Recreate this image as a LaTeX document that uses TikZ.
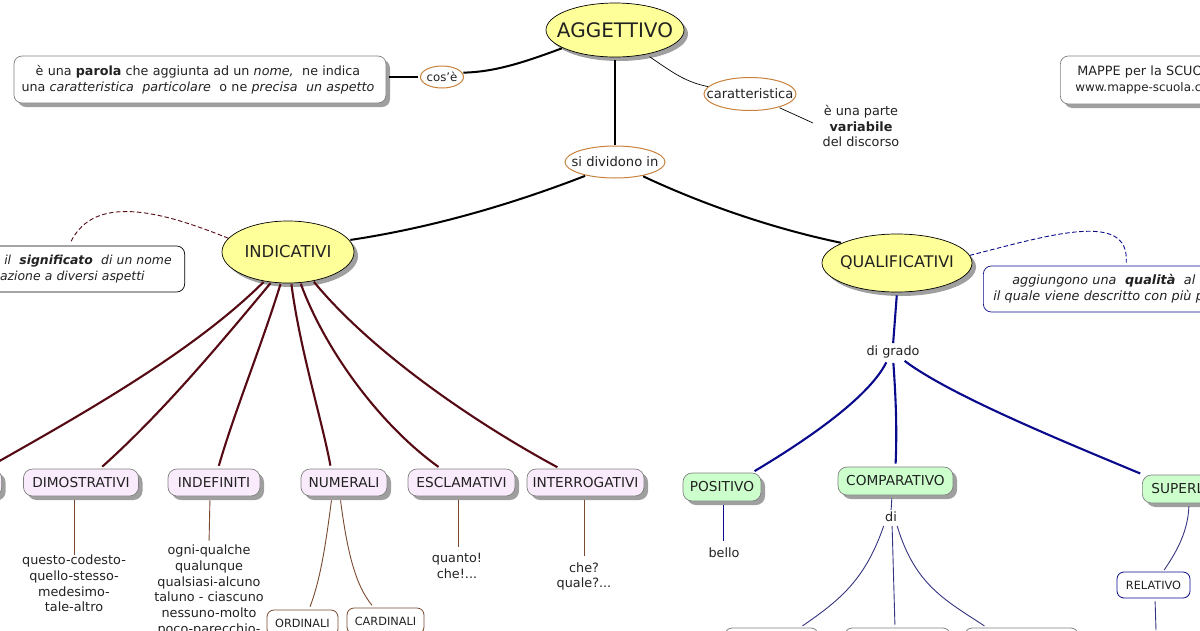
\documentclass[tikz,border=0pt]{standalone}
\usepackage{fontspec}
\setmainfont{DejaVu Sans}
\usetikzlibrary{shapes.geometric,shadows}
\definecolor{txt}{HTML}{222222}
\definecolor{yel}{HTML}{FFFF99}
\definecolor{pinkf}{HTML}{FAEBFC}
\definecolor{greenf}{HTML}{CCFFCC}
\definecolor{orangeb}{HTML}{C8823C}
\definecolor{darkred}{HTML}{560A14}
\definecolor{navy}{HTML}{0A0A8C}
\definecolor{thinnavy}{HTML}{33337F}
\definecolor{brownl}{HTML}{7A4A30}
\definecolor{greyb}{HTML}{808080}
\tikzset{
  every node/.style={text=txt,font=\fontsize{12.8}{15.8}\selectfont,align=center},
  shad/.style={drop shadow={shadow xshift=4pt,shadow yshift=-4pt,fill=gray!75,opacity=1}},
  bigell/.style={ellipse,draw=black,fill=yel,shad,inner ysep=0pt,inner xsep=-10pt,line width=.7pt},
  linkell/.style={ellipse,draw=orangeb,fill=white,inner ysep=0pt,inner xsep=-12pt,line width=1pt,font=\fontsize{13.1}{15}\selectfont},
  notebox/.style={rectangle,rounded corners=8pt,draw=greyb,fill=white,line width=.7pt},
  pinkbox/.style={rectangle,rounded corners=9pt,draw=greyb,fill=pinkf,shad,inner sep=0pt,minimum height=27pt,line width=.7pt,font=\fontsize{13.7}{16}\selectfont},
  greenbox/.style={rectangle,rounded corners=9pt,draw=greyb,fill=greenf,shad,inner sep=0pt,minimum height=28pt,line width=.7pt,font=\fontsize{13.7}{16}\selectfont},
  smallbox/.style={rectangle,rounded corners=7pt,fill=white,inner sep=0pt,minimum height=26pt,line width=.8pt,font=\fontsize{11.3}{13}\selectfont},
  plain/.style={inner sep=0pt},
  thick2/.style={line width=2pt,black},
  redline/.style={line width=2.1pt,darkred},
  blueline/.style={line width=2.1pt,navy},
  thinline/.style={line width=.9pt},
  dashline/.style={line width=.9pt,dash pattern=on 4.5pt off 2.5pt},
}
\begin{document}
\begin{tikzpicture}[x=1pt,y=-1pt]
\useasboundingbox (0,0) rectangle (1200,630);
\clip (0,0) rectangle (1200,630);
% nodes
\node[bigell,minimum width=138pt,minimum height=54pt,font=\fontsize{20}{22}\selectfont] (agg) at (615,30) {AGGETTIVO};
\node[linkell,minimum width=43pt,minimum height=22pt,font=\fontsize{11.8}{14}\selectfont] (cos) at (442,77) {cos'è};
\node[linkell,minimum width=92pt,minimum height=33pt] (car) at (750,94) {caratteristica};
\node[linkell,minimum width=100pt,minimum height=32pt] (si) at (615,162) {si dividono in};
\node[notebox,shad,minimum width=372pt,minimum height=47pt,inner sep=0pt,font=\fontsize{12.7}{15.8}\selectfont,text width=372pt] (def) at (200,79.5) {\hspace*{-4pt}è una \textbf{parola} che aggiunta ad un \textit{nome,}\ \ ne indica\\\hspace*{-4pt}una \textit{caratteristica\ \ particolare}\ \ o ne \textit{precisa\ \ un aspetto}};
\node[plain] (par) at (861,126) {è una parte\\\textbf{variabile}\\del discorso};
\node[notebox,shad,anchor=west,minimum width=200pt,minimum height=48pt,inner sep=0pt,text width=185pt,align=left] (map) at (1060,80) {\hspace*{9.5pt}MAPPE per la SCUO\\\hspace*{7.5pt}{\fontsize{11.9}{15.8}\selectfont www.mappe-scuola.c}};
\node[bigell,minimum width=132pt,minimum height=62pt,font=\fontsize{16.4}{18}\selectfont] (ind) at (288,252) {INDICATIVI};
\node[bigell,minimum width=150pt,minimum height=58pt,font=\fontsize{16}{18}\selectfont] (qua) at (897,263) {QUALIFICATIVI};
\node[notebox,draw=black,anchor=east,minimum height=46pt,text width=200pt,inner sep=0pt,align=right,font=\fontsize{12.4}{15.8}\selectfont] (noteind) at (185,269) {\textit{il\ \ \textbf{significato}\ \ di un nome}\rule{13pt}{0pt}\\\textit{azione a diversi aspetti}\rule{40pt}{0pt}};
\node[notebox,draw=navy,anchor=west,minimum height=46pt,text width=240pt,inner sep=0pt,align=left] (notequa) at (983,289) {\hspace*{29pt}\textit{aggiungono una\ \ \textbf{qualità}\ \ al n}\\\hspace*{10pt}\textit{il quale viene descritto con più p}};
% row of pink boxes
\node[pinkbox,minimum width=60pt,anchor=east] (hid) at (2,483) {};
\node[pinkbox,minimum width=115pt] (dim) at (81,482.5) {DIMOSTRATIVI};
\node[pinkbox,minimum width=92pt] (inde) at (214,482.5) {INDEFINITI};
\node[pinkbox,minimum width=86pt] (num) at (344,482.5) {NUMERALI};
\node[pinkbox,minimum width=107pt] (esc) at (461.5,482.5) {ESCLAMATIVI};
\node[pinkbox,minimum width=117pt] (int) at (585.5,482.5) {INTERROGATIVI};
% green boxes
\node[greenbox,minimum width=78pt] (pos) at (722,487) {POSITIVO};
\node[greenbox,minimum width=115pt] (com) at (895.5,481) {COMPARATIVO};
\node[greenbox,anchor=west,minimum width=130pt,align=left,text width=130pt] (sup) at (1142,489) {\hspace*{9pt}SUPERL};
% texts
\node[plain,fill=white] (gra) at (893,351.5) {di grado};
\node[plain] (di) at (891,517) {di};
\node[plain] (bel) at (724,553) {bello};
\node[plain] (tdim) at (74,583.5) {questo-codesto-\\quello-stesso-\\medesimo-\\tale-altro};
\node[plain,anchor=north] (tind) at (209,544.5) {ogni-qualche\\qualunque\\qualsiasi-alcuno\\taluno - ciascuno\\nessuno-molto\\poco-parecchio-};
\node[plain] (tesc) at (457,566) {quanto!\\che!...};
\node[plain] (tint) at (584,576.5) {che?\\quale?...};
% small boxes
\node[smallbox,draw=brownl,minimum width=71pt] (ord) at (302.5,623) {ORDINALI};
\node[smallbox,draw=brownl,minimum width=77pt] (card) at (385.5,621) {CARDINALI};
\node[smallbox,draw=navy,minimum width=73pt] (rel) at (1153.5,585) {RELATIVO};
\node[smallbox,draw=greyb,minimum width=93pt,minimum height=30pt] (b1) at (771.5,643) {};
\node[smallbox,draw=greyb,minimum width=105pt,minimum height=30pt] (b2) at (897.5,643) {};
\node[smallbox,draw=greyb,minimum width=113pt,minimum height=30pt] (b3) at (1021.5,643) {};
\coordinate (endcar) at (813,123);
\coordinate (rdown) at (1156,630);
% connectors
\draw[thick2,shorten <=1pt,shorten >=1pt] (agg.199) .. controls (525,62) and (495,72) .. (cos.12);
\draw[thick2,shorten <=2pt,shorten >=3pt] (cos.west) -- (def.east |- cos.west);
\draw[thinline,line width=.7pt,shorten <=4pt] (agg.322) .. controls (672,72) and (685,82) .. (car.170);
\draw[thinline,line width=.7pt,shorten <=1pt] (car.335) -- (endcar);
\draw[thick2,shorten <=3pt,shorten >=1pt] (agg.south) -- (si.north);
\draw[thick2,shorten <=1pt,shorten >=1pt] (si.205) .. controls (510,205) and (430,228) .. (ind.11);
\draw[thick2,shorten <=1pt,shorten >=1pt] (si.333) .. controls (700,203) and (770,228) .. (qua.160);
\draw[dashline,darkred,shorten >=3pt] (ind.167) .. controls (170,215) and (95,190) .. (noteind.north -| 69,0);
\draw[dashline,navy,shorten >=3pt] (qua.6) .. controls (1050,235) and (1130,210) .. (notequa.north -| 1126,0);
\draw[redline,shorten <=1pt] (ind.231) .. controls (195,350) and (90,410) .. (hid.north -| -15,0);
\draw[redline,shorten <=1pt,shorten >=3pt] (ind.241) .. controls (215,350) and (160,415) .. (dim.north -| 100,0);
\draw[redline,shorten <=1pt,shorten >=3pt] (ind.257) .. controls (260,350) and (235,410) .. (inde.north -| 218,0);
\draw[redline,shorten <=1pt,shorten >=3pt] (ind.276) .. controls (300,350) and (322,420) .. (num.north -| 331,0);
\draw[redline,shorten <=1pt,shorten >=3pt] (ind.292) .. controls (325,350) and (380,425) .. (esc.north -| 441,0);
\draw[redline,shorten <=1pt,shorten >=3pt] (ind.311) .. controls (370,350) and (470,420) .. (int.north -| 560,0);
\draw[blueline,shorten <=3pt,shorten >=2pt] (qua.south) -- (gra.north);
\draw[blueline,shorten <=5pt,shorten >=3pt] (gra.235) .. controls (870,395) and (815,435) .. (pos.north -| 752,0);
\draw[blueline,shorten <=5pt,shorten >=3pt] (gra.south) .. controls (896,400) and (897,430) .. (com.north);
\draw[blueline,shorten <=5pt,shorten >=3pt] (gra.320) .. controls (950,395) and (1060,440) .. (sup.north -| 1143,0);
\draw[thinline,brownl,shorten <=4pt] (dim.south -| 74,0) -- (tdim.north -| 74,0) ;
\draw[thinline,brownl,shorten <=4pt,shorten >=4pt] (inde.south -| 210,0) -- (tind.north);
\draw[thinline,brownl,shorten <=4pt,shorten >=3pt] (num.south -| 332,0) .. controls (325,550) and (320,580) .. (ord.north -| 309,0);
\draw[thinline,brownl,shorten <=4pt,shorten >=3pt] (num.south -| 340,0) .. controls (347,550) and (355,585) .. (card.north -| 374,0);
\draw[thinline,brownl,shorten <=4pt,shorten >=6pt] (esc.south -| 458,0) -- (tesc.north -| 458,0);
\draw[thinline,brownl,shorten <=4pt,shorten >=6pt] (int.south -| 584,0) -- (tint.north);
\draw[thinline,navy,shorten <=4pt,shorten >=7pt] (pos.south -| 723,0) -- (bel.north -| 723,0);
\draw[thinline,thinnavy,shorten <=3pt,shorten >=2pt] (com.south -| 892,0) -- (di.north -| 891,0);
\draw[thinline,thinnavy,shorten <=4pt,shorten >=3pt] (di.south -| 885,0) .. controls (865,580) and (840,600) .. (b1.north -| 800,0);
\draw[thinline,thinnavy,shorten <=4pt,shorten >=3pt] (di.south -| 892,0) -- (b2.north -| 895,0);
\draw[thinline,thinnavy,shorten <=4pt,shorten >=3pt] (di.south -| 896,0) .. controls (915,585) and (945,600) .. (b3.north -| 987,0);
\draw[thinline,thinnavy,shorten <=3pt,shorten >=2pt] (sup.south -| 1189,0) .. controls (1188,530) and (1178,550) .. (rel.north -| 1163,0);
\draw[thinline,thinnavy,shorten <=3pt] (rel.south -| 1155,0) -- (rdown);
\end{tikzpicture}
\end{document}
